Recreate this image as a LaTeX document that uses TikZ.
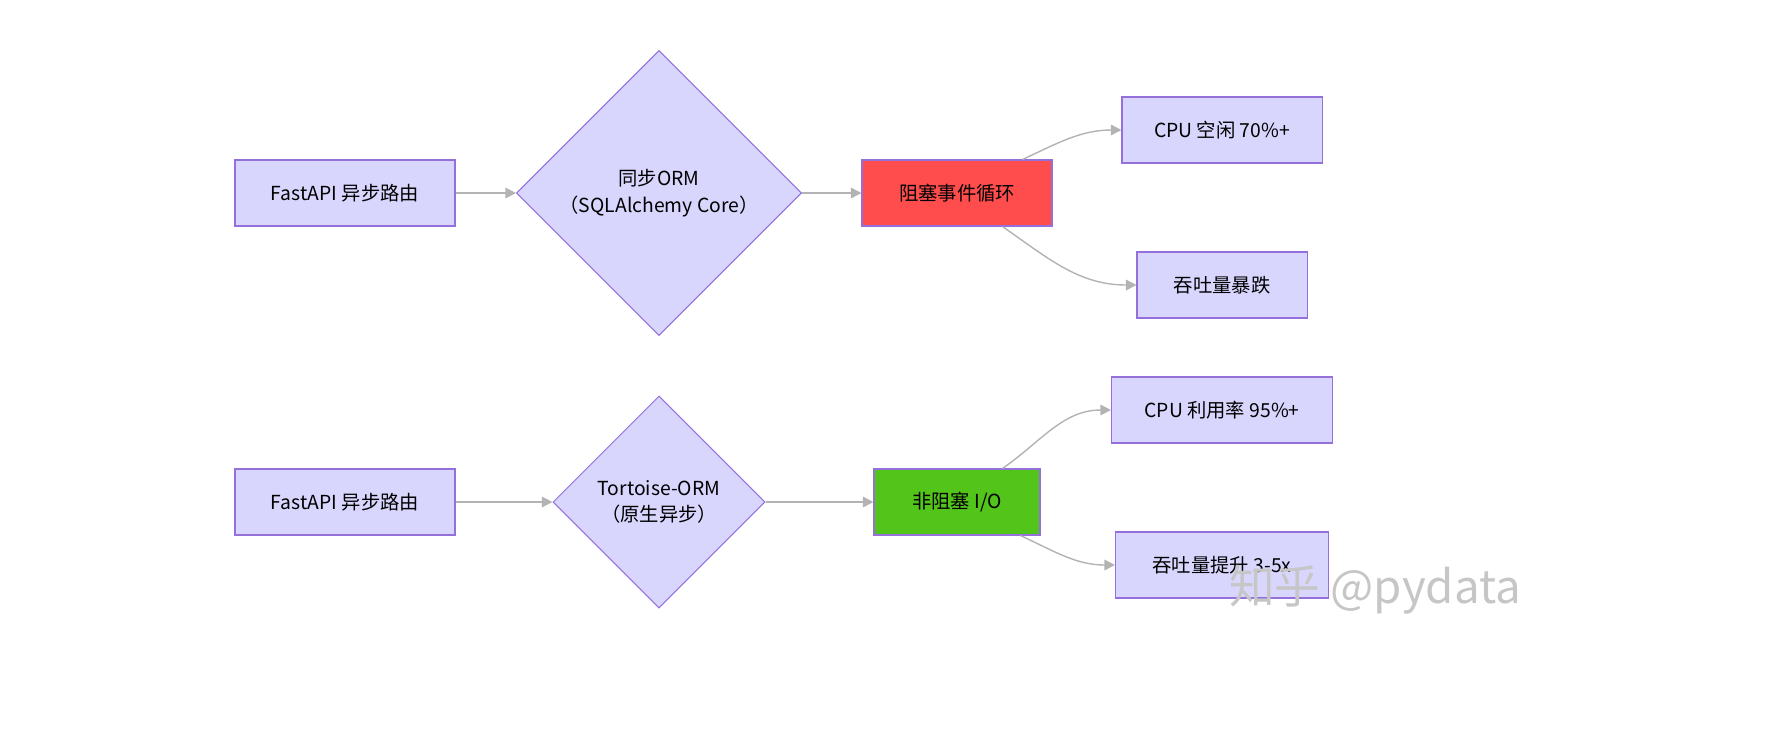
\documentclass[tikz,border=0pt]{standalone}
\usepackage{fontspec}
\setmainfont{Noto Sans CJK SC}
\usetikzlibrary{shapes.geometric,arrows.meta}
\definecolor{boxfill}{HTML}{D9D6FE}
\definecolor{boxline}{HTML}{9370DB}
\definecolor{blockred}{HTML}{FF4D4D}
\definecolor{okgreen}{HTML}{52C41A}
\definecolor{edgegray}{HTML}{B3B3B3}
\begin{document}
\begin{tikzpicture}[
    box/.style={rectangle, draw=boxline, fill=boxfill, line width=0.3pt, minimum height=0.66cm, font=\fontsize{5.5pt}{7pt}\selectfont, inner sep=0pt},
    choice/.style={diamond, draw=boxline, fill=boxfill, line width=0.3pt, align=center, font=\fontsize{5.5pt}{7.5pt}\selectfont, inner sep=0pt, aspect=1},
    edge/.style={draw=edgegray, line width=0.4pt, -{Triangle[length=3pt,width=3pt]}}
]
    \useasboundingbox (0,0) rectangle (17.88,7.52);
    % Top row
    \node[box, minimum width=2.2cm] (route1) at (3.45,5.59) {FastAPI 异步路由};
    \node[choice, minimum width=2.85cm, minimum height=2.85cm] (sync) at (6.59,5.59) {同步ORM\\（SQLAlchemy Core）};
    \node[box, fill=blockred, minimum width=1.9cm] (block) at (9.57,5.59) {阻塞事件循环};
    \node[box, minimum width=2.0cm] (idle) at (12.22,6.22) {CPU 空闲 70\%+};
    \node[box, minimum width=1.7cm] (drop) at (12.22,4.67) {吞吐量暴跌};

    % Bottom row
    \node[box, minimum width=2.2cm] (route2) at (3.45,2.50) {FastAPI 异步路由};
    \node[choice, minimum width=2.12cm, minimum height=2.12cm] (tortoise) at (6.59,2.50) {Tortoise-ORM\\（原生异步）};
    \node[box, fill=okgreen, minimum width=1.66cm] (nonblock) at (9.57,2.50) {非阻塞 I/O};
    \node[box, minimum width=2.21cm] (busy) at (12.22,3.42) {CPU 利用率 95\%+};
    \node[box, minimum width=2.13cm] (gain) at (12.22,1.87) {吞吐量提升 3-5x};

    % Connectors
    \draw[edge] (route1) -- (sync);
    \draw[edge] (sync) -- (block);
    \draw[edge] ([xshift=-0.3cm]block.north east) to[out=25, in=180] (idle.west);
    \draw[edge] ([xshift=-0.5cm]block.south east) to[out=-35, in=180] (drop.west);
    \draw[edge] (route2) -- (tortoise);
    \draw[edge] (tortoise) -- (nonblock);
    \draw[edge] ([xshift=-0.38cm]nonblock.north east) to[out=35, in=180] (busy.west);
    \draw[edge] ([xshift=-0.2cm]nonblock.south east) to[out=-25, in=180] (gain.west);

    % Watermark
    \node[text=gray!45, font=\fontsize{13pt}{15pt}\selectfont] (mark) at (13.75,1.62) {知乎 @pydata};
\end{tikzpicture}
\end{document}
